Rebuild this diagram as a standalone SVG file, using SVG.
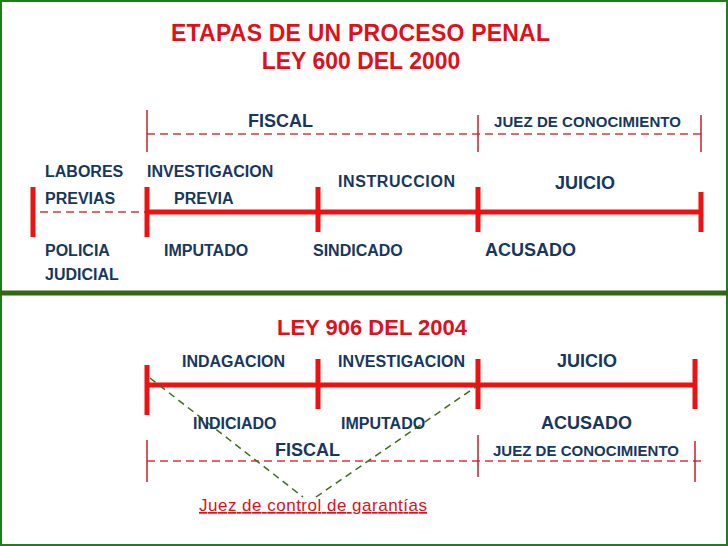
<svg xmlns="http://www.w3.org/2000/svg" width="728" height="546" viewBox="0 0 728 546">
<style>
.t{font-family:"Liberation Sans",Arial,sans-serif;font-weight:bold;fill:#17375e}
.s16{font-size:16px}
.s18{font-size:18px}
.s15{font-size:15px}
.title{font-family:"Liberation Sans",Arial,sans-serif;font-weight:bold;fill:#e0101a}
.bar{stroke:#ee1111;stroke-width:5;fill:none}
.tick{stroke:#c8202a;stroke-width:1.5;fill:none}
.dash{stroke:#d83838;stroke-width:1.5;stroke-dasharray:8 5;fill:none}
.gdash{stroke:#3f6b1e;stroke-width:1.5;stroke-dasharray:7 5;fill:none}
</style>
<rect x="0" y="0" width="728" height="546" fill="#ffffff"/>
<rect x="1" y="1" width="726" height="544" fill="none" stroke="#1a801a" stroke-width="2"/>
<rect x="0" y="290.5" width="728" height="5" fill="#336611"/>

<g id="title1">
<text class="title" x="360.5" y="41" font-size="23" text-anchor="middle" textLength="379">ETAPAS DE UN PROCESO PENAL</text>
<text class="title" x="361" y="69" font-size="23" text-anchor="middle">LEY 600 DEL 2000</text>
</g>

<g id="connectors">
<line class="dash" x1="147" y1="134" x2="701" y2="134"/>
<line class="tick" x1="147" y1="110" x2="147" y2="152"/>
<line class="tick" x1="478" y1="115" x2="478" y2="152"/>
<line class="tick" x1="701" y1="115" x2="701" y2="152"/>
<line class="dash" x1="40" y1="212" x2="145" y2="212"/>
<line class="bar" x1="147" y1="212" x2="701" y2="212"/>
<line class="bar" x1="33" y1="187" x2="33" y2="237"/>
<line class="bar" x1="147" y1="187" x2="147" y2="237"/>
<line class="bar" x1="318" y1="187" x2="318" y2="232"/>
<line class="bar" x1="478" y1="187" x2="478" y2="232"/>
<line class="bar" x1="701" y1="192" x2="701" y2="232"/>
<line class="bar" x1="147" y1="385" x2="695" y2="385"/>
<line class="bar" x1="147" y1="365" x2="147" y2="415"/>
<line class="bar" x1="318" y1="359" x2="318" y2="409"/>
<line class="bar" x1="478" y1="359" x2="478" y2="409"/>
<line class="bar" x1="695" y1="359" x2="695" y2="409"/>
<line class="dash" x1="147" y1="461" x2="701" y2="461"/>
<line class="tick" x1="147" y1="440" x2="147" y2="482"/>
<line class="tick" x1="478" y1="435" x2="478" y2="477"/>
<line class="tick" x1="695" y1="441" x2="695" y2="482"/>
<line class="gdash" x1="150" y1="378" x2="303" y2="497"/>
<line class="gdash" x1="316" y1="497" x2="477" y2="386"/>
</g>

<g id="fiscal1"><text class="t s18" x="248" y="127">FISCAL</text></g>
<g id="juez1"><text class="t s15" x="494" y="127" textLength="187">JUEZ DE CONOCIMIENTO</text></g>
<g id="labores"><text class="t s16" x="45" y="177">LABORES</text><text class="t s16" x="45" y="204">PREVIAS</text></g>
<g id="invprevia"><text class="t s16" x="147" y="177">INVESTIGACION</text><text class="t s16" x="174" y="204">PREVIA</text></g>
<g id="instruccion"><text class="t s16" x="338" y="187" textLength="117">INSTRUCCION</text></g>
<g id="juicio1"><text class="t s18" x="555" y="189">JUICIO</text></g>
<g id="policia"><text class="t s16" x="45" y="256">POLICIA</text><text class="t s16" x="45" y="280">JUDICIAL</text></g>
<g id="imputado1"><text class="t s16" x="164" y="256">IMPUTADO</text></g>
<g id="sindicado"><text class="t s16" x="313" y="256">SINDICADO</text></g>
<g id="acusado1"><text class="t s18" x="485" y="256">ACUSADO</text></g>

<g id="title2"><text class="title" x="372" y="335" font-size="22" text-anchor="middle">LEY 906 DEL 2004</text></g>
<g id="indagacion"><text class="t s16" x="182" y="367">INDAGACION</text></g>
<g id="investigacion2"><text class="t s16" x="338" y="367" textLength="127">INVESTIGACION</text></g>
<g id="juicio2"><text class="t s18" x="557" y="367">JUICIO</text></g>
<g id="indiciado"><text class="t s16" x="193" y="429">INDICIADO</text></g>
<g id="imputado2"><text class="t s16" x="341" y="429">IMPUTADO</text></g>
<g id="acusado2"><text class="t s18" x="541" y="429">ACUSADO</text></g>
<g id="fiscal2"><text class="t s18" x="275" y="456">FISCAL</text></g>
<g id="juez2"><text class="t s15" x="493" y="456" textLength="186">JUEZ DE CONOCIMIENTO</text></g>
<g id="garantias"><text x="199" y="511" font-family="'Liberation Sans',Arial,sans-serif" font-size="17" fill="#e0101a" text-decoration="underline" textLength="228">Juez de control de garantías</text></g>
</svg>
